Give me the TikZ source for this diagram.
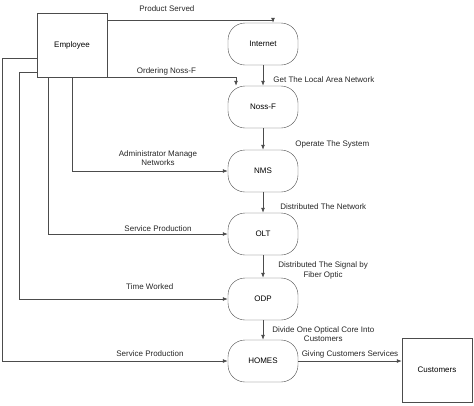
\documentclass[tikz,border=0pt]{standalone}
\usepackage{fontspec}
\setmainfont{Liberation Sans}
\usepackage{tikz}
\usetikzlibrary{arrows.meta}
\usetikzlibrary{positioning}
\tikzset{
  entidade/.style={draw=black!70, fill=white, minimum width=70pt, minimum height=64pt, inner sep=2pt, font=\fontsize{8}{9.5}\selectfont},
  processo/.style={draw=black!70, fill=white, rounded corners=17pt, minimum width=70pt, minimum height=42pt, inner sep=2pt, font=\fontsize{8}{9.5}\selectfont},
  seta/.style={-{Latex[length=5pt,width=4pt]}, draw=black!70, line width=0.8pt},
  rotulo/.style={font=\fontsize{8}{9.5}\selectfont, align=center, inner sep=1pt, text=black!85},
}

\begin{document}
\begin{tikzpicture}[x=1pt, y=-1pt]
  \useasboundingbox (0,0) rectangle (474,405);
  % entities
  \node[entidade] (employee) at (72,45) {Employee};
  \node[entidade] (customers) at (437,370) {Customers};
  % process chain
  \node[processo] (internet) at (263,44) {Internet};
  \node[processo] (nossf) at (263,107) {Noss-F};
  \node[processo] (nms) at (263,171) {NMS};
  \node[processo] (olt) at (263,234) {OLT};
  \node[processo] (odp) at (263,299) {ODP};
  \node[processo] (homes) at (263,361) {HOMES};
  % flow down the chain
  \draw[seta] (internet) -- node[rotulo, anchor=west, pos=0.7, xshift=9pt] (l1) {Get The Local Area Network} (nossf);
  \draw[seta] (nossf) -- node[rotulo, anchor=west, pos=0.73, xshift=31pt] (l2) {Operate The System} (nms);
  \draw[seta] (nms) -- node[rotulo, anchor=west, pos=0.7, xshift=16pt] (l3) {Distributed The Network} (olt);
  \draw[seta] (olt) -- node[rotulo, anchor=west, pos=0.68, xshift=14pt] (l4) {Distributed The Signal by\\Fiber Optic} (odp);
  \draw[seta] (odp) -- node[rotulo, anchor=west, pos=0.7, xshift=8pt] (l5) {Divide One Optical Core Into\\Customers} (homes);
  \draw[seta] (homes.east) -- node[rotulo, above=1pt] (l6) {Giving Customers Services} (homes.east -| customers.west);
  % employee to the chain
  \draw[seta] ([yshift=25pt]employee.east) -| node[rotulo, pos=0.18, above=7pt] (l7) {Product Served} ([xshift=10pt]internet.north);
  \draw[seta] (employee.south east) -| node[rotulo, pos=0.23, above=1pt] (l8) {Ordering Noss-F} ([xshift=-27pt]nossf.north);
  \draw[seta] (employee.south) |- node[rotulo, pos=0.776, above=4pt] (l9) {Administrator Manage\\Networks} (nms.west);
  \draw[seta] ([xshift=-24pt]employee.south) |- node[rotulo, pos=0.806, above=1pt] (l10) {Service Production} (olt.west);
  \draw[seta] ([yshift=-27pt]employee.west) -- ++(-17pt,0) |- node[rotulo, pos=0.8125, above=8pt] (l11) {Time Worked} (odp.west);
  \draw[seta] ([yshift=-13pt]employee.west) -- ++(-34pt,0) |- node[rotulo, pos=0.827, above=3pt] (l12) {Service Production} (homes.west);
\end{tikzpicture}
\end{document}
